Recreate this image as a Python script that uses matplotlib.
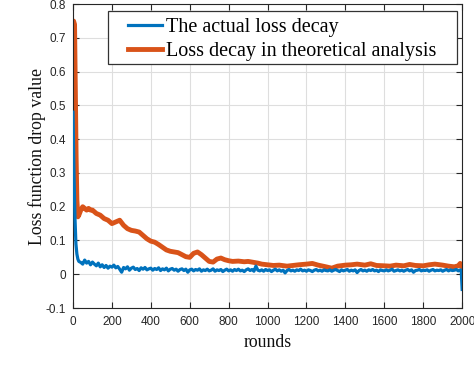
import numpy as np
import matplotlib
matplotlib.use("Agg")
import matplotlib.pyplot as plt
from matplotlib.patches import Rectangle

# ---- data ----
blue_rounds_early = [0, 5, 10, 15, 20, 25, 30]
blue_values_early = [0.48, 0.30, 0.17, 0.09, 0.06, 0.045, 0.038]
blue_values_rest = [
    0.035, 0.030, 0.042, 0.033, 0.038, 0.028, 0.036,
    0.030, 0.025, 0.033, 0.022, 0.028, 0.020, 0.026, 0.018, 0.024, 0.021,
    0.027, 0.019, 0.023, 0.015, 0.006, 0.020, 0.016, 0.022, 0.012, 0.018,
    0.021, 0.014, 0.017, 0.011, 0.019, 0.015, 0.020, 0.013, 0.016, 0.018,
    0.012, 0.017, 0.014, 0.019, 0.011, 0.016, 0.013, 0.018, 0.010, 0.015,
    0.017, 0.012, 0.015, 0.009, 0.014, 0.016, 0.011, 0.015, 0.006, 0.013,
    0.015, 0.010, 0.014, 0.012, 0.016, 0.009, 0.013, 0.011, 0.015, 0.010,
    0.012, 0.016, 0.009, 0.013, 0.011, 0.014, 0.008, 0.012, 0.015, 0.010,
    0.013, 0.009, 0.014, 0.011, 0.015, 0.010, 0.012, 0.008, 0.013, 0.016,
    0.011, 0.014, 0.009, 0.024, 0.012, 0.010, 0.013, 0.009, 0.014, 0.011,
    0.013, 0.008, 0.012, 0.015, 0.010, 0.013, 0.009, 0.012, 0.004, 0.011,
    0.014, 0.010, 0.012, 0.009, 0.013, 0.011, 0.015, 0.010, 0.012, 0.009,
    0.013, 0.011, 0.008, 0.012, 0.014, 0.010, 0.012, 0.009, 0.013, 0.011,
    0.010, 0.013, 0.009, 0.012, 0.014, 0.011, 0.008, 0.013, 0.010, 0.012,
    0.014, 0.009, 0.012, 0.010, 0.013, 0.005, 0.011, 0.014, 0.010, 0.012,
    0.009, 0.013, 0.011, 0.014, 0.010, 0.012, 0.008, 0.013, 0.011, 0.010,
    0.013, 0.010, 0.012, 0.015, 0.009, 0.011, 0.013, 0.010, 0.012, 0.009,
    0.012, 0.014, 0.010, 0.013, 0.006, 0.011, 0.012, 0.014, 0.010, 0.012,
    0.011, 0.013, 0.009, 0.012, 0.014, 0.010, 0.012, 0.011, 0.013, 0.009,
    0.012, 0.014, 0.010, 0.013, 0.011, 0.012, 0.014, 0.010, 0.013,
]
blue_rounds_end = [1995, 2000]
blue_values_end = [0.012, -0.045]

orange_rounds = [0, 3, 8, 12, 16, 20, 25, 30, 40, 50, 60, 70, 80, 90, 100,
                 120, 140, 160, 180, 200, 220, 240, 260, 280, 300, 320, 340,
                 360, 380, 400, 420, 440, 460, 480, 500, 520, 540, 560, 580,
                 600, 620, 640, 660, 680, 700, 720, 740, 760, 780, 800, 820,
                 850, 880, 900, 920, 950, 970, 1000, 1030, 1060, 1100, 1130,
                 1160, 1200, 1230, 1260, 1300, 1330, 1360, 1400, 1430, 1460,
                 1500, 1530, 1560, 1600, 1630, 1660, 1700, 1730, 1760, 1800,
                 1830, 1860, 1900, 1930, 1960, 1980, 1990, 2000]
orange_values = [0.70, 0.75, 0.74, 0.55, 0.35, 0.22, 0.17, 0.175, 0.19, 0.20,
                 0.195, 0.19, 0.195, 0.19, 0.19, 0.18, 0.175, 0.165, 0.16,
                 0.15, 0.155, 0.16, 0.145, 0.135, 0.13, 0.128, 0.125, 0.115,
                 0.105, 0.098, 0.095, 0.088, 0.08, 0.072, 0.068, 0.066, 0.064,
                 0.058, 0.052, 0.05, 0.062, 0.066, 0.058, 0.048, 0.038, 0.036,
                 0.045, 0.048, 0.043, 0.04, 0.038, 0.039, 0.037, 0.038, 0.036,
                 0.033, 0.030, 0.028, 0.026, 0.027, 0.024, 0.026, 0.028, 0.030,
                 0.032, 0.027, 0.022, 0.018, 0.024, 0.027, 0.028, 0.030, 0.027,
                 0.031, 0.026, 0.025, 0.024, 0.027, 0.025, 0.029, 0.026, 0.025,
                 0.028, 0.030, 0.027, 0.024, 0.022, 0.025, 0.032, 0.022]

legend_labels = ["The actual loss decay", "Loss decay in theoretical analysis"]
x_ticks = [0, 200, 400, 600, 800, 1000, 1200, 1400, 1600, 1800, 2000]
y_ticks = [-0.1, 0, 0.1, 0.2, 0.3, 0.4, 0.5, 0.6, 0.7, 0.8]
y_tick_labels = ["-0.1", "0", "0.1", "0.2", "0.3", "0.4", "0.5", "0.6", "0.7", "0.8"]

blue_rounds = blue_rounds_early + list(np.arange(40, 1991, 10)) + blue_rounds_end
blue_values = blue_values_early + blue_values_rest + blue_values_end
n = min(len(blue_rounds), len(blue_values))
blue_rounds = blue_rounds[:n]
blue_values = blue_values[:n]

# ---- plot ----
fig = plt.figure(figsize=(4.74, 3.77), dpi=100)
ax = fig.add_axes([0.154, 0.183, 0.821, 0.806])

dark = "#262626"
ax.plot(blue_rounds, blue_values, color="#0072BD", lw=2.3, label=legend_labels[0], zorder=3)
ax.plot(orange_rounds, orange_values, color="#D95319", lw=3.5, label=legend_labels[1], zorder=2)

ax.set_xlim(0, 2000)
ax.set_ylim(-0.1, 0.8)
ax.set_xticks(x_ticks)
ax.set_yticks(y_ticks)
ax.set_yticklabels(y_tick_labels)
ax.grid(True, color="#dedede", lw=0.8)
ax.set_axisbelow(True)
ax.tick_params(direction="in", top=True, right=True, length=4, width=0.8,
               color=dark, labelcolor=dark, labelsize=8.5)
ax.tick_params(axis="x", pad=6)
ax.tick_params(axis="y", pad=5)
for lab in ax.get_xticklabels() + ax.get_yticklabels():
    lab.set_family("Liberation Sans")
for s in ax.spines.values():
    s.set_color(dark)
    s.set_linewidth(0.8)

ax.set_xlabel("rounds", family="Liberation Serif", fontsize=12.8, color="#111111", labelpad=4)
ax.set_ylabel("Loss function drop value", family="Liberation Serif", fontsize=12.8,
              color="#111111", labelpad=0)

# legend frame drawn as a box, legend content placed inside
frame = Rectangle((0.090, 0.803), 0.897, 0.174, transform=ax.transAxes,
                  facecolor="white", edgecolor="#333333", lw=0.9, zorder=5)
ax.add_patch(frame)
leg = ax.legend(loc="upper left", bbox_to_anchor=(0.141, 0.955), borderaxespad=0,
                prop={"family": "Liberation Serif", "size": 14.5}, frameon=False,
                handlelength=1.7, handletextpad=0.2, borderpad=0.0, labelspacing=0.27)
leg.set_zorder(6)

fig.savefig("out.png", dpi=100)
